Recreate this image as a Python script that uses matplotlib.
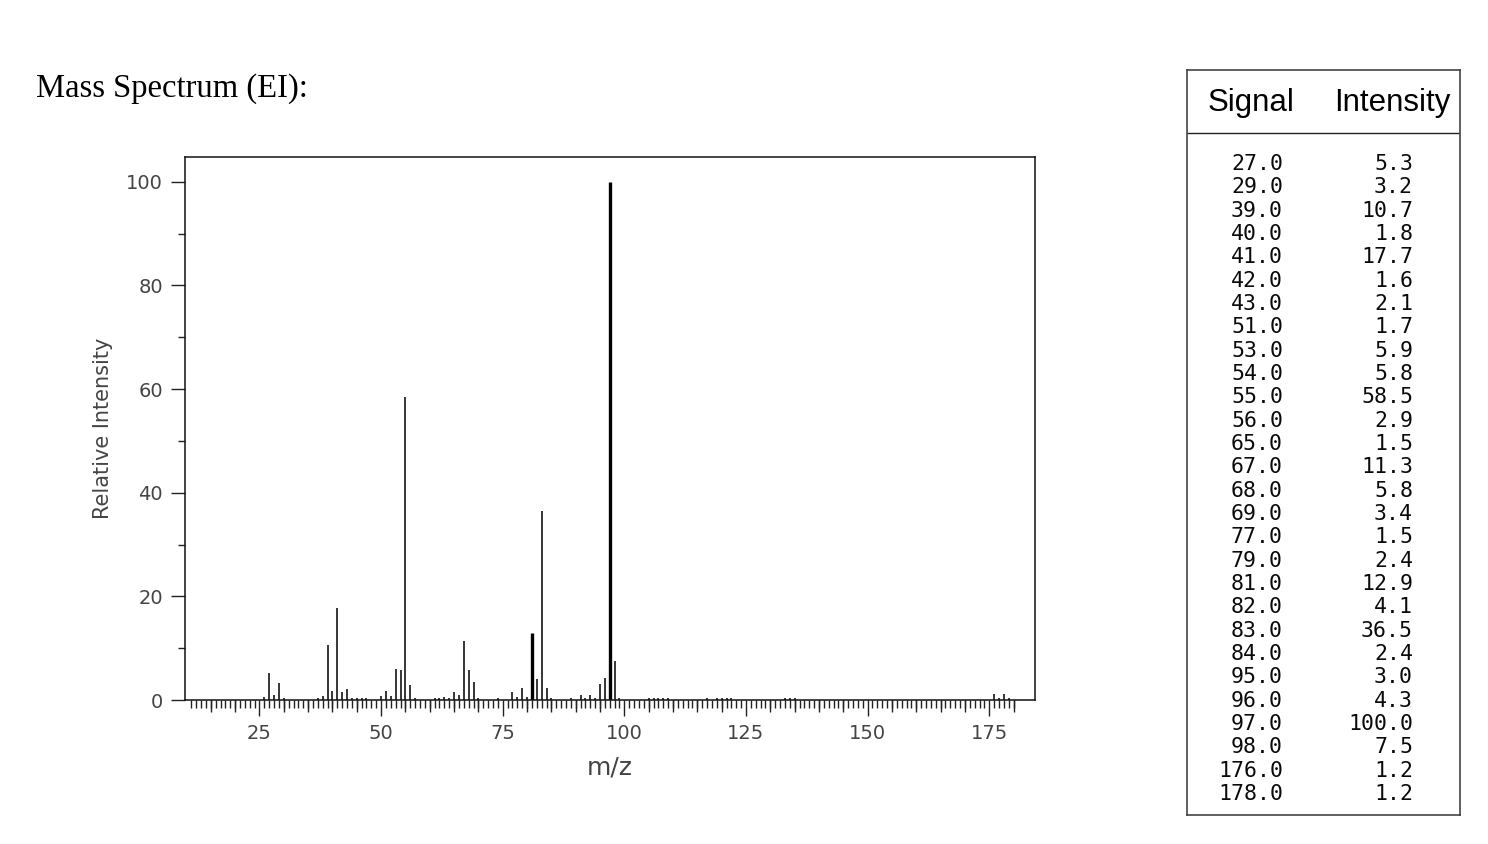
import matplotlib
matplotlib.use("Agg")
import matplotlib.pyplot as plt

# peaks listed in the table (m/z, relative intensity)
signals = [27.0, 29.0, 39.0, 40.0, 41.0, 42.0, 43.0, 51.0, 53.0, 54.0, 55.0, 56.0,
           65.0, 67.0, 68.0, 69.0, 77.0, 79.0, 81.0, 82.0, 83.0, 84.0, 95.0, 96.0,
           97.0, 98.0, 176.0, 178.0]
intensities = [5.3, 3.2, 10.7, 1.8, 17.7, 1.6, 2.1, 1.7, 5.9, 5.8, 58.5, 2.9,
               1.5, 11.3, 5.8, 3.4, 1.5, 2.4, 12.9, 4.1, 36.5, 2.4, 3.0, 4.3,
               100.0, 7.5, 1.2, 1.2]

# small peaks seen in the spectrum but not in the table (estimated)
small_mz = [26, 28, 30, 37, 38, 44, 45, 46, 47, 50, 52, 57, 61, 62, 63, 64, 66, 70,
            74, 78, 80, 85, 89, 91, 92, 93, 94, 99, 105, 106, 107, 108, 109,
            117, 119, 120, 121, 122, 133, 134, 135, 177, 179]
small_int = [0.6, 1.0, 0.3, 0.4, 0.8, 0.4, 0.4, 0.4, 0.4, 0.8, 0.8, 0.4, 0.3, 0.4,
             0.6, 0.3, 0.9, 0.3, 0.3, 0.6, 0.6, 0.3, 0.4, 0.9, 0.4, 0.9, 0.4, 0.4,
             0.3, 0.3, 0.3, 0.3, 0.3, 0.3, 0.3, 0.3, 0.3, 0.3, 0.3, 0.3, 0.3,
             0.4, 0.4]
thick_peaks = [81.0, 97.0]

W, H = 1488, 844
fig = plt.figure(figsize=(W / 100, H / 100), dpi=100)

fig.text(36 / W, 1 - 89 / H, "Mass Spectrum (EI):", family="Liberation Serif",
         fontsize=23.5, va="center", ha="left", color="black")

# spectrum
ax = fig.add_axes([185 / W, 144 / H, 850 / W, 543 / H])
all_mz = signals + small_mz
all_int = intensities + small_int
widths = [2.4 if m in thick_peaks else 1.1 for m in all_mz]
ax.vlines(all_mz, 0, all_int, colors="black", linewidths=widths)
ax.set_xlim(9.7, 184.4)
ax.set_ylim(0, 104.8)

for s in ax.spines.values():
    s.set_linewidth(1.1)
    s.set_color("#111111")

ax.set_xticks([25, 50, 75, 100, 125, 150, 175])
ax.set_xticks(range(11, 181), minor=True)
ax.set_yticks([0, 20, 40, 60, 80, 100])
ax.set_yticks([10, 30, 50, 70, 90], minor=True)
ax.tick_params(axis="x", which="major", length=11.5, width=1.0, direction="out",
               pad=5.5, labelsize=14, labelcolor="#444444", color="#222222")
ax.tick_params(axis="x", which="minor", length=5.5, width=1.0, direction="out",
               color="#222222")
ax.tick_params(axis="y", which="major", length=10, width=1.0, direction="out",
               pad=6, labelsize=14, labelcolor="#444444", color="#222222")
ax.tick_params(axis="y", which="minor", length=5, width=1.0, direction="out",
               color="#222222")

# medium ticks every 5 units
sec = ax.secondary_xaxis("bottom")
sec.set_xticks([m for m in range(15, 181, 5) if m % 25 != 0])
sec.set_xticklabels([])
sec.tick_params(axis="x", length=8.5, width=1.0, direction="out", color="#222222")
sec.tick_params(axis="x", which="minor", length=0)
sec.spines["bottom"].set_visible(False)

ax.set_xlabel("m/z", fontsize=18, color="#444444", labelpad=9)
ax.set_ylabel("Relative Intensity", fontsize=15, color="#444444", labelpad=9)

# table
tab = fig.add_axes([1187 / W, 29 / H, 273 / W, 745 / H])
tab.set_xlim(1187, 1460)
tab.set_ylim(815, 70)
tab.set_xticks([])
tab.set_yticks([])
for s in tab.spines.values():
    s.set_linewidth(1.2)
    s.set_color("#444444")
tab.axhline(133, color="#222222", linewidth=1.0)
tab.text(1251, 103, "Signal", family="Liberation Sans", fontsize=22.5,
         ha="center", va="center", color="black")
tab.text(1392, 103, "Intensity", family="Liberation Sans", fontsize=22.5,
         ha="center", va="center", color="black")
row_step = (793 - 163) / (len(signals) - 1)
for i, (sg, it) in enumerate(zip(signals, intensities)):
    y = 164 + i * row_step
    tab.text(1283, y, f"{sg:.1f}", family="DejaVu Sans Mono", fontsize=15.5,
             ha="right", va="center", color="#0a0a0a")
    tab.text(1413, y, f"{it:.1f}", family="DejaVu Sans Mono", fontsize=15.5,
             ha="right", va="center", color="#0a0a0a")

fig.savefig("out.png", dpi=100)
